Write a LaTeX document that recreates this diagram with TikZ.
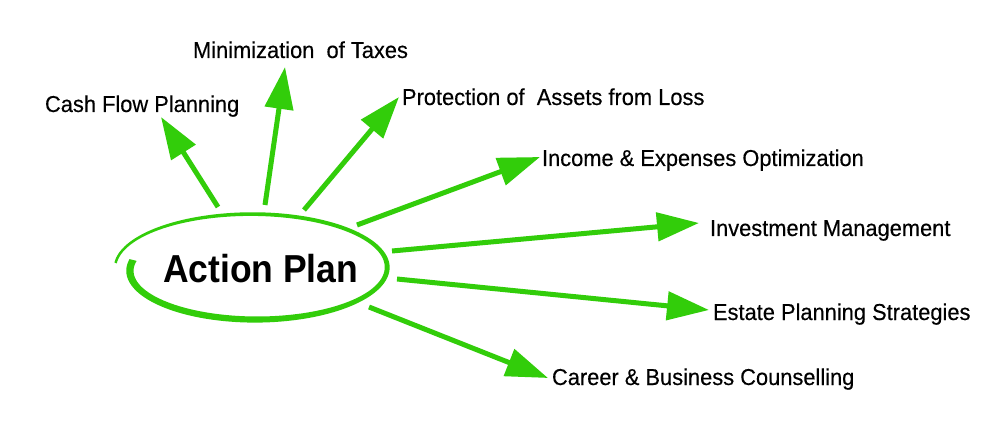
\documentclass[tikz,border=0pt]{standalone}
\usepackage{fontspec}
\setmainfont{Liberation Sans}
\newfontfamily\labfont[FakeStretch=0.95,FakeBold=0.3]{Liberation Sans}
\newfontfamily\titfont[FakeStretch=0.91]{Liberation Sans Bold}
\usetikzlibrary{arrows.meta}
\definecolor{apgreen}{RGB}{50,205,10}
\tikzset{
  lab/.style={anchor=base west,inner sep=0pt,outer sep=0pt,font=\labfont\fontsize{23}{27}\selectfont,text=black},
  tit/.style={anchor=base west,inner sep=0pt,outer sep=0pt,font=\titfont\fontsize{39}{44}\selectfont,text=black},
  arr/.style={draw=apgreen,line width=5pt,-{Triangle[length=42pt,width=28pt,fill=apgreen]}}
}
\begin{document}
\begin{tikzpicture}[x=1pt,y=-1pt]
\useasboundingbox[fill=white] (0,0) rectangle (1000,438);
% ellipse (hand-drawn style)
\fill[apgreen] plot[domain=0:1,samples=150,variable=\u]
  ({252+(137*(1-0.12*(1-\u)^3)+(7.5-5*\u)/2)*cos(190-365*\u)},
   {268+(54*(1-0.12*(1-\u)^3)+(7.5-5*\u)/2)*sin(190-365*\u)})
  -- plot[domain=1:0,samples=150,variable=\u]
  ({252+(137*(1-0.12*(1-\u)^3)-(7.5-5*\u)/2)*cos(190-365*\u)},
   {268+(54*(1-0.12*(1-\u)^3)-(7.5-5*\u)/2)*sin(190-365*\u)}) -- cycle;
\node[tit] (ap) at (163,282) {Action Plan};
% labels
\node[lab] (l1) at (45,112) {Cash Flow Planning};
\node[lab] (l2) at (193,58) {Minimization\ \ of Taxes};
\node[lab] (l3) at (402,105) {Protection of\ \ Assets from Loss};
\node[lab] (l4) at (542,166) {Income \& Expenses Optimization};
\node[lab] (l5) at (710,236) {Investment Management};
\node[lab] (l6) at (713,320) {Estate Planning Strategies};
\node[lab] (l7) at (552,385) {Career \& Business Counselling};
% arrow starts on ellipse
\coordinate (s1) at (218,207);
\coordinate (s2) at (265,205);
\coordinate (s3) at (304,210);
\coordinate (s4) at (357,225);
\coordinate (s5) at (392,251);
\coordinate (s6) at (397,279);
\coordinate (s7) at (369,307);
% arrow tips
\coordinate (t1) at (161,117);
\coordinate (t2) at (285,67);
\coordinate (t3) at (399,97);
\coordinate (t4) at (540,157);
\coordinate (t5) at (699,223);
\coordinate (t6) at (709,310);
\coordinate (t7) at (548,378);
\foreach \i in {1,...,7}{\draw[arr] (s\i) -- (t\i);}
\end{tikzpicture}
\end{document}
